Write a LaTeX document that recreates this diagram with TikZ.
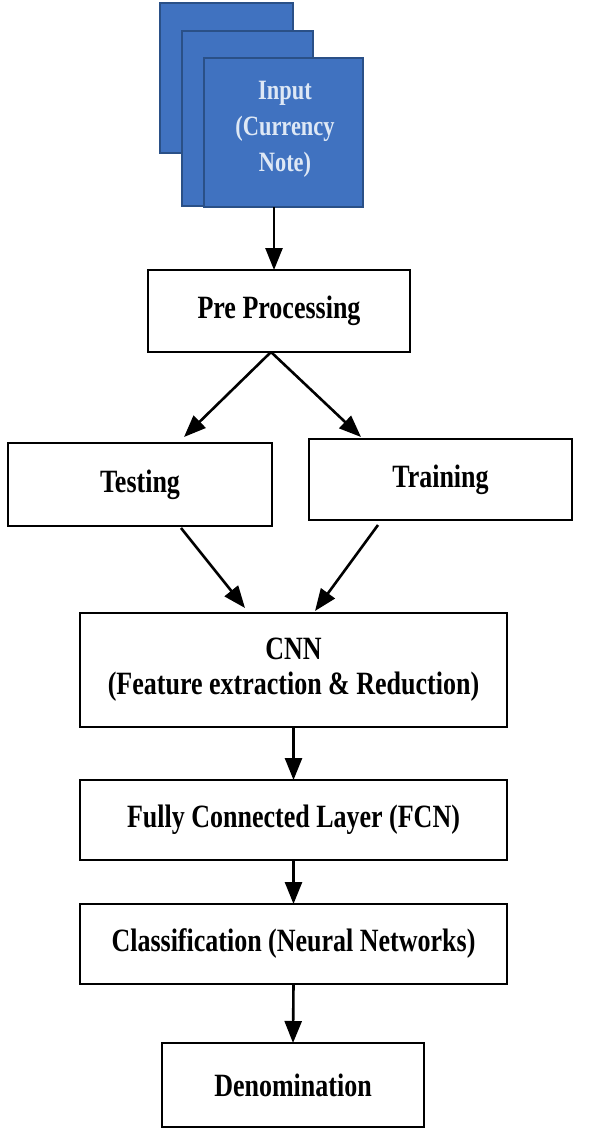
\documentclass[tikz,border=0pt]{standalone}
\usepackage{fontspec}
\setmainfont[FakeStretch=0.8]{Liberation Serif}
\usetikzlibrary{arrows.meta}
\definecolor{noteblue}{RGB}{64,114,192}
\definecolor{noteedge}{RGB}{42,80,135}
\definecolor{notetext}{RGB}{222,232,245}
\tikzset{
  stepbox/.style={draw=black, line width=1.1pt, fill=white, inner sep=0pt, outer sep=0pt,
    align=center, font=\bfseries\fontsize{16.25}{17.5}\selectfont},
  notebox/.style={draw=noteedge, line width=0.8pt, fill=noteblue, inner sep=0pt, outer sep=0pt,
    align=center, text=notetext, font=\bfseries\fontsize{13.75}{18}\selectfont},
  arr/.style={line width=1.3pt, -{Triangle[length=11pt,width=8.5pt]}}
}
\begin{document}
\begin{tikzpicture}[x=0.5pt,y=-0.5pt]
\useasboundingbox (0,0) rectangle (590,1135);
% stacked input sheets
\node[notebox, minimum width=66.5pt, minimum height=75pt] (back) at (226.5,78) {};
\node[notebox, minimum width=65.5pt, minimum height=87.5pt] (mid) at (247.5,118.5) {};
\node[notebox, minimum width=79.5pt, minimum height=74.5pt] (front) at (283.5,132.5) {};
\node[text=notetext, font=\bfseries\fontsize{14}{18}\selectfont, align=center] (intext) at (285,129) {Input\\(Currency\\Note)};
% process boxes
\node[stepbox, minimum width=131pt, minimum height=41pt] (pre) at (279,311) {Pre Processing};
\node[stepbox, minimum width=132pt, minimum height=41.5pt] (test) at (140,484.5) {Testing};
\node[stepbox, minimum width=131.5pt, minimum height=40.5pt] (train) at (440.5,479.5) {Training};
\node[stepbox, minimum width=213.5pt, minimum height=57pt] (cnn) at (293.5,670) {CNN\\(Feature extraction \& Reduction)};
\node[stepbox, minimum width=213.5pt, minimum height=40pt] (fcn) at (293.5,820) {Fully Connected Layer (FCN)};
\node[stepbox, minimum width=213.5pt, minimum height=40pt] (cls) at (293.5,944) {Classification (Neural Networks)};
\node[stepbox, minimum width=131pt, minimum height=42pt] (den) at (293,1085) {Denomination};
% connectors
\draw[arr] ([xshift=-4.75pt]front.south) -- ([xshift=-4.75pt]front.south |- pre.north);
\draw[arr] ([xshift=-4pt]pre.south) -- ([xshift=22pt,yshift=3pt]test.north);
\draw[arr] ([xshift=-4pt]pre.south) -- ([xshift=-39.75pt,yshift=1pt]train.north);
\draw[arr] ([xshift=20.5pt,yshift=-1pt]test.south) -- ([xshift=-24.25pt,yshift=2.5pt]cnn.north);
\draw[arr] ([xshift=-31.25pt,yshift=-2.5pt]train.south) -- ([xshift=10.75pt,yshift=1pt]cnn.north);
\draw[arr] (cnn.south) -- (fcn.north);
\draw[arr] (fcn.south) -- (cls.north);
\draw[arr] (cls.south) -- (den.north);
\end{tikzpicture}
\end{document}
